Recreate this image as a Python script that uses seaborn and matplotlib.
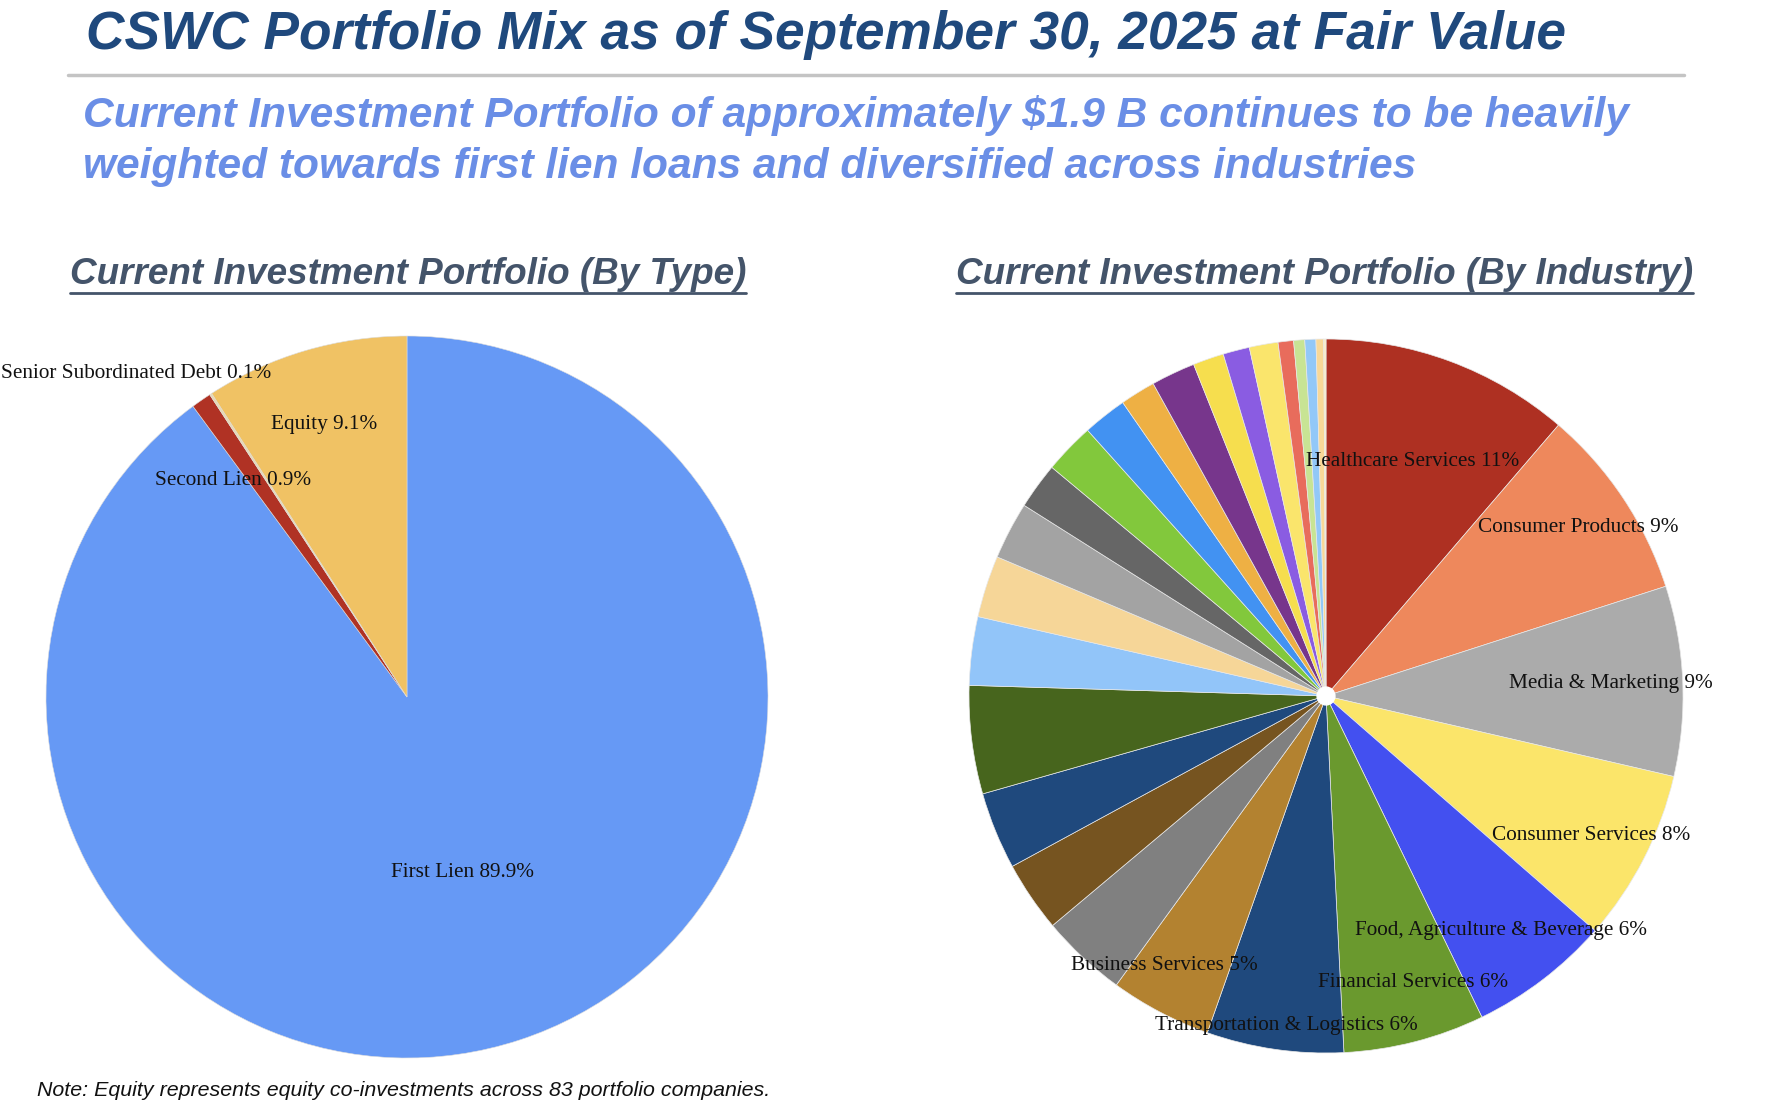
import numpy as np
import pandas as pd
import matplotlib
matplotlib.use("Agg")
import matplotlib.pyplot as plt
from matplotlib.lines import Line2D
import seaborn as sns

# ---------------- data ----------------
type_labels = ["First Lien", "Second Lien", "Senior Subordinated Debt", "Equity"]
type_values = [89.9, 0.9, 0.1, 9.1]
type_colors = ["#6699F5", "#B03224", "#EAD9B0", "#F0C264"]

industry_labels = ["Healthcare Services", "Consumer Products", "Media & Marketing",
                   "Consumer Services", "Food, Agriculture & Beverage", "Financial Services",
                   "Transportation & Logistics", "Business Services"] + [""] * 20
industry_label_pcts = ["11%", "9%", "9%", "8%", "6%", "6%", "6%", "5%"] + [""] * 20
industry_values = [11.3, 8.75, 8.6, 7.8, 6.4, 6.4, 6.2, 4.6, 3.9, 3.2, 3.5, 4.9, 3.1, 2.8,
                   2.6, 2.1, 2.3, 2.0, 1.6, 2.0, 1.4, 1.2, 1.3, 0.7, 0.5, 0.5, 0.35, 0.1]
industry_colors = ["#AE3022", "#EE885C", "#ABABAB", "#FBE56A", "#4350F0", "#6A992E",
                   "#1F497D", "#B38230", "#808080", "#765420", "#1F497D", "#47651D",
                   "#92C5F9", "#F6D698", "#A3A3A3", "#666666", "#82C83C", "#4292F2",
                   "#EEB044", "#77368C", "#F6DE4E", "#8A5CE2", "#FAE56C", "#E86C5C",
                   "#C8E494", "#92C8F8", "#F8D898", "#FBEFC8"]

title = "CSWC Portfolio Mix as of September 30, 2025 at Fair Value"
subtitle_lines = ["Current Investment Portfolio of approximately $1.9 B continues to be heavily",
                  "weighted towards first lien loans and diversified across industries"]
left_heading = "Current Investment Portfolio (By Type)"
right_heading = "Current Investment Portfolio (By Industry)"
note = "Note: Equity represents equity co-investments across 83 portfolio companies."

# ---------------- style ----------------
sns.set_theme(style="white")
plt.rcParams["font.family"] = ["Liberation Sans", "DejaVu Sans"]

W, H = 1774, 1120
fig = plt.figure(figsize=(W / 100, H / 100), dpi=100)
fig.patch.set_facecolor("white")

def pie_axes(cx, cy, r):
    return fig.add_axes([(cx - r) / W, (H - cy - r) / H, 2 * r / W, 2 * r / H])

serif = ["Liberation Serif", "DejaVu Serif"]
label_fs = 15.3

# ---------------- left pie ----------------
axL = pie_axes(407, 697, 361)
wL, _ = axL.pie(type_values, colors=type_colors, startangle=90, counterclock=False,
                wedgeprops=dict(linewidth=0.4, edgecolor="#dddddd"))
axL.set_xlim(-1, 1); axL.set_ylim(-1, 1); axL.set_aspect("equal"); axL.axis("off")
left_r = [0.51, 0.77, 1.17, 0.79]
left_nudge = [-0.7, 4.0, 7.0, 0.6]
for w, lab, v, r, nd in zip(wL, type_labels, type_values, left_r, left_nudge):
    th = np.deg2rad((w.theta1 + w.theta2) / 2 + nd)
    axL.text(r * np.cos(th), r * np.sin(th), f"{lab} {v}%", ha="center", va="center",
             fontsize=label_fs, family=serif, color="#111111")

# ---------------- right pie ----------------
axR = pie_axes(1326, 696, 357)
wR, _ = axR.pie(industry_values, colors=industry_colors, startangle=90, counterclock=False,
                wedgeprops=dict(linewidth=0.5, edgecolor="#e8e8e8"))
axR.set_xlim(-1, 1); axR.set_ylim(-1, 1); axR.set_aspect("equal"); axR.axis("off")
axR.add_patch(plt.Circle((0, 0), 0.025, color="white", zorder=5))
right_r = [0.70, 0.85, 0.80, 0.84, 0.82, 0.84, 0.93, 0.88]
right_nudge = [0, 0, 0, -0.6, -0.6, 2.5, 1.4, -3.2]
for i, (w, lab, pct) in enumerate(zip(wR, industry_labels, industry_label_pcts)):
    if not lab:
        continue
    th = np.deg2rad((w.theta1 + w.theta2) / 2 + right_nudge[i])
    axR.text(right_r[i] * np.cos(th), right_r[i] * np.sin(th), f"{lab} {pct}",
             ha="center", va="center", fontsize=label_fs, family=serif, color="#111111")

# ---------------- texts ----------------
fig.text(86 / W, 1 - 35 / H, title, fontsize=38.3, fontweight="bold", fontstyle="italic",
         color="#1F497D", ha="left", va="center")
fig.add_artist(Line2D([68 / W, 1684 / W], [1 - 75 / H, 1 - 75 / H], color="#C4C4C4", lw=2.5))
for k, line in enumerate(subtitle_lines):
    fig.text(83 / W, 1 - (116 + 51 * k) / H, line, fontsize=30.6, fontweight="bold",
             fontstyle="italic", color="#6A8EE6", ha="left", va="center")

heads = []
heads.append(fig.text(70 / W, 1 - 274 / H, left_heading, fontsize=26.6, fontweight="bold",
                      fontstyle="italic", color="#44546A", ha="left", va="center"))
heads.append(fig.text(956 / W, 1 - 274 / H, right_heading, fontsize=26.6, fontweight="bold",
                      fontstyle="italic", color="#44546A", ha="left", va="center"))
fig.text(37 / W, 1 - 1091 / H, note, fontsize=15.4, fontstyle="italic", color="#111111",
         ha="left", va="center")

fig.canvas.draw()
rend = fig.canvas.get_renderer()
for t in heads:
    bb = t.get_window_extent(rend)
    y = bb.y0 - 1
    fig.add_artist(Line2D([bb.x0 / W, bb.x1 / W], [y / H, y / H], color="#44546A", lw=2))

fig.savefig("out.png", dpi=100, facecolor="white")
